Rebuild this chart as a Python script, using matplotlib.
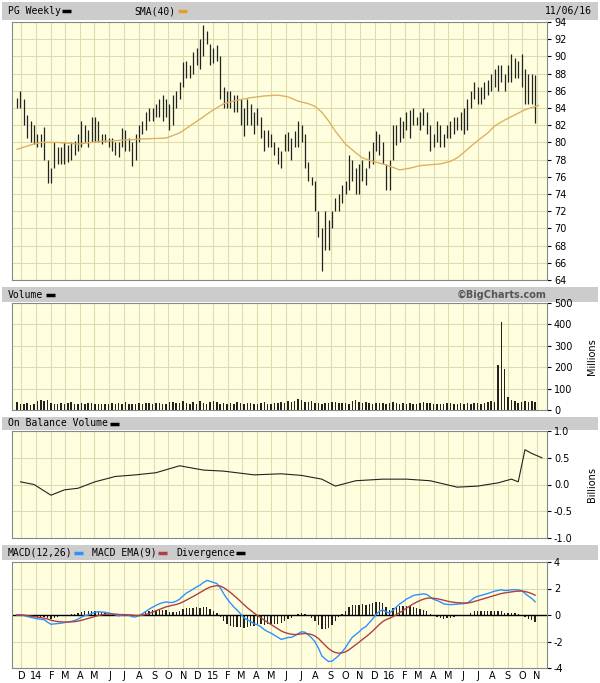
import matplotlib
matplotlib.use("Agg")
import matplotlib.pyplot as plt
import numpy as np
import pandas as pd

highs = [85.2,86,85,83.2,82.5,82,81,81,81.8,78,77,80,79.5,
 79.5,80,79.7,80,80.2,81,82.5,82,81.5,83,83,82.5,81,81,80.5,80.5,80,80,81.7,81.5,80.5,80,81,82,82.5,83.5,84,84,84.5,85,85.5,85,84.5,85.5,86,87,89.3,89.5,89,90.5,91,92,93.7,93,91.5,91,91.3,90,86.5,86,86,85.5,85.5,85,84,85,84.5,83.5,84,83,81.5,81.5,81,80,79.5,79,81,81.2,80.5,81.3,82.5,82,81,77.7,76,75.5,72,70,72,71,72,73.5,74,75,75.5,78.5,78,77,77.5,78,77,79,80,81.3,81,80,77.5,78,82,82,83,82.5,83.5,83.8,84,83,83.5,84,83.5,82,81,82.5,82,81,82,82.5,83,83,83.5,84,85,86,87,86.5,86.5,87,87.3,88,88.5,89,89,88,89,90.3,89.8,89.5,90.3,88.5,88,88,87.8]
lows = [84,84,82,80.5,80,79.8,79.5,79.5,78,75.3,75.3,77,77.5,
 77.5,77.5,77.7,78,78.5,79,79.5,80,79.5,80,80,80,79.8,80,79.5,79,78.5,78.3,79.5,79,79,77.2,78,80,81,81.5,82.5,82.5,83,83,82.5,83,81.5,82,84,85,86.5,87.5,87.5,88,89,88.5,90,91.5,89,89.2,89.5,85,84,84,84,83.5,83.5,82,80.8,82,82,81,82,80.5,79,79.5,79.5,78.5,77.5,77,79,79,78,79.5,79.5,80,77,75.5,75,72,69,65,67.5,67.5,70,72,72,73,74,74.5,75.5,74,74,75.5,75,77,77.5,79,78.5,77.5,74.5,74.5,78,79.7,80,80.5,81.5,80.5,82,82,81.5,82,81,79,79.5,80,79.5,79.5,80.5,80.5,81,81.5,81.5,81,81.5,84,85,84.5,84.5,85,85.5,86,86.5,86,87,86,87,87,87.5,87.5,86.5,84.5,84.5,84.5,82.2]
volume = [38,30,28,35,25,30,42,45,40,48,35,30,28,32,30,34,36,28,30,33,29,31,35,30,27,26,30,28,32,29,33,27,36,30,28,26,31,29,35,32,30,34,33,28,30,36,38,35,32,40,34,30,36,28,42,33,30,38,44,36,30,32,28,34,30,36,33,29,31,35,30,28,33,38,30,27,32,34,36,31,40,37,42,50,45,38,36,40,35,33,30,34,32,36,38,34,31,35,30,40,45,38,34,36,33,30,32,35,31,28,33,36,34,30,32,29,31,28,30,33,36,35,32,28,30,27,29,33,31,30,28,32,30,34,29,31,33,30,35,38,40,36,210,410,190,60,45,40,35,38,42,36,40,38]
obv_week = [1,5,10,14,18,23,29,35,41,48,55,61,70,78,84,90,94,100,108,115,122,130,136,142,146,148,150,152,155]
obv_val = [0.05,0.0,-0.2,-0.1,-0.07,0.05,0.15,0.18,0.22,0.35,0.27,0.25,0.18,0.2,0.17,0.1,-0.03,0.07,0.1,0.1,0.07,-0.05,-0.03,0.03,0.1,0.05,0.65,0.58,0.5]
sma_week = [0,4,7,12,18,24,29,37,44,48,51,54,58,61,65,69,73,77,80,83,86,88,90,92,94,97,100,102,105,108,111,113,116,119,122,125,128,130,133,136,139,141,144,147,150,154]
sma_val = [79.2,79.7,80,80,79.8,80.1,80.2,80.4,80.5,81.1,81.9,82.7,83.8,84.5,84.9,85.2,85.4,85.5,85.3,84.8,84.5,84.2,83.5,82.5,81.3,79.8,78.8,78.2,77.8,77.5,77.1,76.8,77.0,77.3,77.4,77.5,77.8,78.2,79.2,80.2,81.1,81.9,82.6,83.2,83.8,84.3]

n = len(highs)
dates = pd.date_range("2013-11-22", periods=n, freq="W-FRI")
x = np.arange(n)
mid = (np.array(highs) + np.array(lows)) / 2
s = pd.Series(mid)
macd = s.ewm(span=12).mean() - s.ewm(span=26).mean()
sig = macd.ewm(span=9).mean()
div = macd - sig

start = dates[0]
months = pd.date_range("2013-12-01", "2016-11-01", freq="MS")
mpos = [(m - start).days / 7 for m in months]
mlab = [str(m.year)[2:] if m.month == 1 else "JFMAMJJASOND"[m.month-1] for m in months]

BG = "#ffffe0"
GRID = "#dcdcae"
fig = plt.figure(figsize=(6, 6.83), dpi=100)
fig.patch.set_facecolor("white")
W, H = 600, 683
def ax_px(l, t, r, b):
    return fig.add_axes([l/W, 1-b/H, (r-l)/W, (b-t)/H])
def header(t, b):
    a = ax_px(2, t, 598, b)
    a.set_facecolor("#cccccc"); a.set_xticks([]); a.set_yticks([])
    for sp in a.spines.values(): sp.set_visible(False)
    a.set_xlim(2, 598); a.set_ylim(0, 1)
    return a
F = dict(fontsize=7, family="DejaVu Sans Mono")
def sw(a, x0, c):
    a.plot([x0, x0 + 9], [0.5, 0.5], color=c, lw=2.5, solid_capstyle="butt")

xlim = (-1.5, 156.5)
def style(a, yt):
    a.set_facecolor(BG)
    a.set_xlim(*xlim)
    a.set_xticks(mpos); a.set_xticklabels([])
    a.tick_params(axis="x", length=0)
    a.yaxis.tick_right()
    a.set_yticks(yt)
    a.set_yticklabels([str(v) for v in yt], fontsize=7)
    a.tick_params(axis="y", length=3, pad=2)
    a.grid(True, color=GRID, lw=0.8)
    a.set_axisbelow(True)
    for sp in a.spines.values(): sp.set_color("#888888")

h = header(2, 20)
h.text(8, 0.5, "PG Weekly", va="center", **F); sw(h, 62, "k")
h.text(134, 0.5, "SMA(40)", va="center", **F); sw(h, 178, "#e0a030")
h.text(592, 0.5, "11/06/16", va="center", ha="right", **F)

a1 = ax_px(12, 22, 547, 280)
a1.vlines(x, lows, highs, color="#222222", lw=0.9)
a1.plot(sma_week, sma_val, color="#e0b060", lw=1)
a1.set_ylim(64, 94)
style(a1, list(range(64, 95, 2)))

h = header(287, 302)
h.text(8, 0.5, "Volume", va="center", **F); sw(h, 46, "k")
h.text(547, 0.5, "©BigCharts.com", va="center", ha="right", fontsize=7, weight="bold", color="#555555")

a2 = ax_px(12, 303, 547, 410)
a2.bar(x[:len(volume)], volume[:n], width=0.45, color="#222222")
a2.set_ylim(0, 500)
style(a2, [0, 100, 200, 300, 400, 500])
a2.text(1.075, 0.5, "Millions", rotation=90, transform=a2.transAxes, va="center", fontsize=7)

h = header(417, 430)
h.text(8, 0.5, "On Balance Volume", va="center", **F); sw(h, 110, "k")
a3 = ax_px(12, 431, 547, 538)
a3.plot(obv_week, obv_val, color="#222222", lw=0.8)
a3.set_ylim(-1.0, 1.0)
style(a3, [-1.0, -0.5, 0.0, 0.5, 1.0])
a3.text(1.075, 0.5, "Billions", rotation=90, transform=a3.transAxes, va="center", fontsize=7)

h = header(545, 560)
h.text(8, 0.5, "MACD(12,26)", va="center", **F); sw(h, 74, "#3090ff")
h.text(92, 0.5, "MACD EMA(9)", va="center", **F); sw(h, 158, "#b04040")
h.text(176, 0.5, "Divergence", va="center", **F); sw(h, 236, "k")
a4 = ax_px(12, 562, 547, 668)
a4.bar(x, div, width=0.4, color="#222222")
a4.axhline(0, color="k", lw=1)
a4.plot(x, macd, color="#3090ff", lw=1)
a4.plot(x, sig, color="#b04040", lw=1)
a4.set_ylim(-4, 4)
style(a4, [-4, -2, 0, 2, 4])
a4.set_xticklabels(mlab, fontsize=7)
a4.tick_params(axis="x", pad=2)

fig.savefig("out.png", dpi=100)
